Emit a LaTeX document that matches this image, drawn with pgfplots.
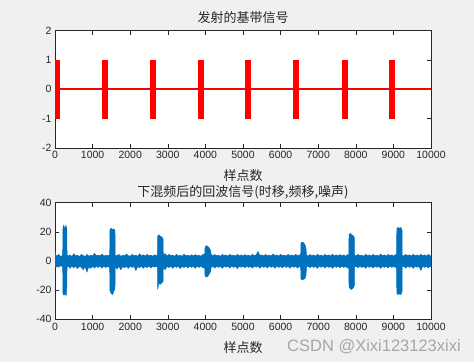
\documentclass[border=0pt]{standalone}
\usepackage{pgfplots}
\pgfplotsset{compat=1.18}
\usepackage{fontspec}
\setmainfont{Liberation Sans}
\newfontfamily\cjk{Noto Sans CJK SC}
\definecolor{mblue}{RGB}{0,114,189}
\definecolor{mred}{RGB}{255,0,0}
\definecolor{axgray}{RGB}{38,38,38}
\definecolor{figbg}{RGB}{240,240,240}
\pgfplotstableread{
x y
0 6.5
20 4
60 3.5
100 4.5
150 3
205 4
210 22
230 24.5
260 22
290 24.5
315 22
320 4
360 3.5
400 4.2
450 3
500 5
550 3.5
600 4
650 3
700 4.5
750 3.8
800 3
850 4.5
900 3.2
950 4
1000 3.5
1050 5.2
1100 3.6
1150 4
1200 3.5
1250 4.8
1300 3.4
1350 4
1400 3.8
1455 4
1460 21
1490 22.5
1530 21.5
1560 22
1595 21
1600 4
1650 3.6
1700 4.5
1750 3.2
1800 4
1850 3.5
1900 4.8
1950 3.6
2000 3.3
2050 4.5
2100 3.6
2150 4
2200 3.3
2250 5
2300 3.5
2350 4.2
2400 3.4
2450 4.5
2500 3.6
2550 4
2600 3.3
2650 4.2
2700 3.8
2725 4
2730 17
2760 18
2800 17
2840 16.5
2875 15
2880 4
2930 5
2980 3.4
3030 4.5
3080 3.8
3130 4
3180 3.2
3230 4.5
3280 3.5
3330 4
3380 3.2
3430 4.6
3480 3.5
3530 4
3580 3.4
3630 4.2
3680 3.5
3730 4.4
3780 3.6
3830 4
3880 3.3
3940 4.5
3985 5
3990 9
4020 10.5
4060 10
4100 9
4140 7
4150 4.5
4200 3.5
4250 4.4
4300 3.6
4350 4
4400 3.2
4450 4.5
4500 3.7
4550 4.2
4600 3.3
4650 4.5
4700 3.6
4750 4
4800 3.4
4850 4.6
4900 3.5
4950 4.2
5000 3.4
5050 4.4
5100 3.5
5150 4
5200 3.4
5250 4.5
5300 3.8
5350 4.2
5400 6.5
5450 3.6
5500 4.2
5550 3.4
5600 4.5
5650 3.6
5700 4
5750 3.5
5800 4.8
5850 3.6
5900 4.2
5950 3.4
6000 4.5
6050 3.7
6100 4
6150 3.4
6200 4.5
6250 3.6
6300 4.2
6350 3.4
6400 4.6
6450 3.5
6500 4.2
6535 4
6540 12
6570 13
6610 12.5
6650 11
6680 8
6685 4
6730 3.4
6780 4.4
6830 3.6
6880 4.2
6930 3.3
6980 4.6
7030 3.6
7080 4
7130 3.3
7180 4.5
7230 3.6
7280 4.2
7330 3.4
7380 4.6
7430 3.5
7480 4.2
7530 3.4
7580 4.4
7630 3.5
7680 4.2
7730 3.3
7780 4.4
7815 4
7820 18
7850 19
7890 18
7930 17.5
7960 16
7965 4
8010 3.5
8060 4.5
8110 3.6
8160 4
8210 3.3
8260 4.6
8310 3.6
8360 4.2
8410 3.4
8460 4.5
8510 3.6
8560 4
8610 3.4
8660 4.8
8710 3.6
8760 4.2
8810 3.3
8860 4.5
8910 3.6
8960 4.2
9010 3.4
9060 4.4
9085 4
9090 22
9120 23
9160 22.5
9200 23
9230 21
9235 4
9280 3.5
9330 4.5
9380 3.6
9430 4.2
9480 3.4
9530 4.6
9580 3.6
9630 4.2
9680 3.4
9730 4.5
9780 3.6
9830 4.2
9880 3.4
9930 4.5
9980 3.6
10000 3
}\uppertab
\pgfplotstableread{
x y
0 -3
20 -4.5
60 -3.5
100 -4.2
150 -3.2
205 -4
210 -22
240 -23.5
270 -22.5
300 -23.5
315 -18
320 -4
360 -3.6
400 -5
450 -3.4
500 -4.6
550 -3.6
600 -5.2
650 -3.5
700 -4.4
750 -6
800 -3.8
850 -7.5
900 -4
950 -5
1000 -3.6
1050 -4.8
1100 -3.5
1150 -4.4
1200 -3.6
1250 -5
1300 -3.4
1350 -4.5
1400 -3.6
1455 -4.5
1460 -20
1490 -22
1530 -23
1560 -21
1595 -19
1600 -4
1650 -5.5
1700 -3.6
1750 -6
1800 -3.8
1850 -4.6
1900 -3.6
1950 -5
2000 -3.5
2050 -4.4
2100 -3.6
2150 -6.5
2200 -3.8
2250 -4.6
2300 -3.5
2350 -5
2400 -3.6
2450 -4.5
2500 -3.4
2550 -4.8
2600 -3.6
2650 -4.2
2700 -3.5
2725 -4.5
2730 -19.5
2760 -15.5
2800 -16
2840 -15
2875 -14
2880 -4
2930 -6
2980 -3.6
3030 -4.5
3080 -3.5
3130 -5
3180 -3.6
3230 -4.4
3280 -3.5
3330 -5.2
3380 -3.6
3430 -4.5
3480 -3.4
3530 -4.8
3580 -3.5
3630 -4.3
3680 -3.6
3730 -5
3780 -3.5
3830 -4.4
3880 -3.6
3940 -4.6
3985 -5
3990 -10
4020 -11
4060 -10.5
4100 -9
4140 -7
4150 -4.5
4200 -3.6
4250 -4.8
4300 -3.5
4350 -4.4
4400 -3.6
4450 -5
4500 -3.5
4550 -4.2
4600 -3.6
4650 -4.8
4700 -3.4
4750 -4.4
4800 -3.6
4850 -5.2
4900 -3.5
4950 -4.3
5000 -3.6
5050 -4.6
5100 -3.4
5150 -4.4
5200 -3.6
5250 -4.8
5300 -3.5
5350 -4.2
5400 -3.6
5450 -5
5500 -3.5
5550 -4.4
5600 -3.6
5650 -4.8
5700 -3.4
5750 -4.3
5800 -3.6
5850 -5
5900 -3.5
5950 -4.4
6000 -3.6
6050 -4.7
6100 -3.4
6150 -4.4
6200 -3.6
6250 -5
6300 -3.5
6350 -4.3
6400 -3.6
6450 -4.8
6500 -3.5
6535 -4.5
6540 -12
6570 -13
6610 -12.5
6650 -12
6680 -9
6685 -4
6730 -3.6
6780 -4.6
6830 -3.5
6880 -4.4
6930 -3.6
6980 -5
7030 -3.4
7080 -4.3
7130 -3.6
7180 -4.8
7230 -3.5
7280 -4.4
7330 -3.6
7380 -5
7430 -3.5
7480 -4.3
7530 -3.6
7580 -4.6
7630 -3.5
7680 -4.4
7730 -3.6
7780 -4.8
7815 -4.5
7820 -18
7850 -19
7890 -19.5
7930 -18.5
7960 -17
7965 -4
8010 -3.6
8060 -4.6
8110 -3.5
8160 -4.4
8210 -3.6
8260 -5
8310 -3.4
8360 -4.4
8410 -3.6
8460 -4.8
8510 -3.5
8560 -4.3
8610 -3.6
8660 -5
8710 -3.5
8760 -4.4
8810 -3.6
8860 -4.8
8910 -3.5
8960 -4.3
9010 -3.6
9060 -4.6
9085 -4.5
9090 -22
9120 -23
9160 -22.5
9200 -23
9230 -21
9235 -4
9280 -3.6
9330 -4.8
9380 -3.5
9430 -4.4
9480 -3.6
9530 -5
9580 -3.5
9630 -4.3
9680 -3.6
9730 -6.5
9780 -3.5
9830 -4.4
9880 -3.6
9930 -4.8
9980 -3.5
10000 -4
}\lowertab
\begin{document}
\begin{tikzpicture}
\fill[figbg] (0,0) rectangle (474pt,362pt);
\pgfplotsset{
  mystyle/.style={
    scale only axis, width=376pt,
    anchor=south west,
    axis background/.style={fill=white},
    axis line style={axgray, line width=0.5pt},
    every tick/.style={axgray, line width=0.5pt},
    major tick length=4pt,
    tick align=inside, tick pos=both,
    xmin=0, xmax=10000,
    xtick={0,1000,...,10000},
    scaled x ticks=false,
    /pgf/number format/1000 sep={},
    /pgf/number format/assume math mode=true,
    ticklabel style={font=\fontsize{10.5}{12}\selectfont, text=axgray},
    xlabel style={at={(axis description cs:0.5,0)}, anchor=center, yshift=-28pt, font=\cjk\fontsize{13}{15}\selectfont, text=axgray},
    title style={at={(axis description cs:0.5,1)}, anchor=center, font=\cjk\fontsize{13}{15}\selectfont, text=axgray},
  }
}
\begin{axis}[mystyle, at={(55pt,214pt)}, height=117.3pt,
  ymin=-2, ymax=2, ytick={-2,-1,0,1,2},
  title={发射的基带信号}, title style={yshift=6.7pt},
  xlabel={样点数}]
\addplot[draw=none, fill=mred] coordinates {(0,-0.03)(0,0.03)(10000,0.03)(10000,-0.03)};
\addplot[draw=mred, fill=mred, line width=0.5pt] coordinates {(0,-1)(0,1)(115,1)(115,-1)};
\addplot[draw=mred, fill=mred, line width=0.5pt] coordinates {(1260,-1)(1260,1)(1390,1)(1390,-1)};
\addplot[draw=mred, fill=mred, line width=0.5pt] coordinates {(2530,-1)(2530,1)(2660,1)(2660,-1)};
\addplot[draw=mred, fill=mred, line width=0.5pt] coordinates {(3800,-1)(3800,1)(3930,1)(3930,-1)};
\addplot[draw=mred, fill=mred, line width=0.5pt] coordinates {(5070,-1)(5070,1)(5200,1)(5200,-1)};
\addplot[draw=mred, fill=mred, line width=0.5pt] coordinates {(6340,-1)(6340,1)(6480,1)(6480,-1)};
\addplot[draw=mred, fill=mred, line width=0.5pt] coordinates {(7630,-1)(7630,1)(7760,1)(7760,-1)};
\addplot[draw=mred, fill=mred, line width=0.5pt] coordinates {(8900,-1)(8900,1)(9030,1)(9030,-1)};
\end{axis}
\begin{axis}[mystyle, at={(55pt,42.7pt)}, height=116.6pt,
  ymin=-40, ymax=40, ytick={-40,-20,0,20,40},
  title={下混频后的回波信号(时移,频移,噪声)}, title style={yshift=4.7pt},
  xlabel={样点数}]
\addplot[mblue, fill=mblue, line width=0.5pt] table {\uppertab} \closedcycle;
\addplot[mblue, fill=mblue, line width=0.5pt] table {\lowertab} \closedcycle;
\end{axis}
\node[anchor=center, text=gray!70, font=\fontsize{16.5}{18}\selectfont] at (374pt,15pt) {CSDN @Xixi123123xixi};
\end{tikzpicture}
\end{document}
